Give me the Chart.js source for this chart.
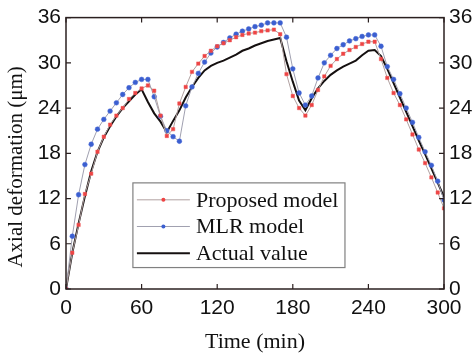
<!DOCTYPE html>
<html><head><meta charset="utf-8">
<script src="https://cdn.jsdelivr.net/npm/chart.js@4.4.1/dist/chart.umd.min.js"></script>
<style>html,body{margin:0;padding:0;background:#fff;}#wrap{width:474px;height:355px;}</style>
</head><body><div id="wrap"><canvas id="c" width="474" height="355"></canvas></div>
<script>
const times = [];
for (let t = 0; t <= 300; t += 5) times.push(t);
const proposed = [0,4.8,8.5,12.6,15.3,18.2,20.2,21.8,23.0,24.0,25.2,26.0,26.6,27.0,26.3,23.0,20.3,21.2,24.6,26.8,28.8,29.9,30.9,31.6,32.2,32.6,33.0,33.4,33.7,33.9,34.0,34.2,34.3,34.4,33.8,28.5,25.6,24.0,23.0,24.4,26.4,28.2,29.6,30.5,31.2,31.7,32.1,32.5,32.8,32.8,30.5,28.0,26.0,24.4,22.5,20.5,18.5,16.7,14.8,12.8,10.7];
const mlr = [0,7.0,12.5,16.5,19.2,21.2,22.5,23.6,24.7,25.8,26.7,27.4,27.8,27.8,25.5,22.9,21.0,20.2,19.6,24.3,26.8,28.6,30.1,31.3,32.1,32.7,33.3,33.8,34.2,34.5,34.8,35.0,35.3,35.3,35.3,33.4,29.2,26.0,24.4,25.6,28.0,30.0,31.0,31.9,32.4,32.9,33.2,33.5,33.7,33.7,32.2,29.5,27.8,25.9,24.0,22.1,20.1,18.2,16.4,14.3,11.8];
const actual = [0,4.8,8.7,12.3,15.6,18.2,20.1,21.6,22.9,24.0,24.9,25.8,26.5,24.8,23.3,22.2,20.8,22.3,23.7,25.4,26.8,28.0,29.0,29.6,30.0,30.3,30.7,31.1,31.6,31.9,32.3,32.6,32.9,33.1,33.3,30.2,27.5,25.0,23.7,25.3,26.6,27.6,28.4,29.0,29.5,29.9,30.3,31.0,31.6,31.7,30.9,29.2,27.3,25.4,23.5,21.6,19.7,17.9,16.0,14.1,12.2];
const seriesNames = ["Proposed model","MLR model","Actual value"];
const xTicks = [0,60,120,180,240,300];
const yTicks = [0,6,12,18,24,30,36];
const xTitle = "Time (min)";
const yTitle = "Axial deformation (μm)";

const pts = arr => arr.map((v,i)=>({x:times[i], y:v}));
const frameColor = '#2b2020';
const serif = '"Liberation Serif", "Times New Roman", serif';

const framePlugin = {
  id:'frame',
  afterDatasetsDraw(chart){
    const {ctx, chartArea:a, scales} = chart;
    ctx.save();
    ctx.strokeStyle = frameColor; ctx.lineWidth = 1.5;
    ctx.strokeRect(a.left, a.top, a.right-a.left, a.bottom-a.top);
    ctx.lineWidth = 1.2;
    const tl = 5;
    ctx.beginPath();
    xTicks.forEach(t=>{
      const x = scales.x.getPixelForValue(t);
      ctx.moveTo(x, a.bottom); ctx.lineTo(x, a.bottom-tl);
      ctx.moveTo(x, a.top); ctx.lineTo(x, a.top+tl);
    });
    yTicks.forEach(v=>{
      const y = scales.y.getPixelForValue(v);
      ctx.moveTo(a.left, y); ctx.lineTo(a.left+tl, y);
      ctx.moveTo(a.right, y); ctx.lineTo(a.right-tl, y);
    });
    ctx.stroke();
    // legend
    const w = a.right-a.left, h = a.bottom-a.top;
    const bx = a.left + 0.177*w, by = a.top + 0.609*h, bw = 0.561*w, bh = 0.312*h;
    ctx.fillStyle = '#fff';
    ctx.fillRect(bx,by,bw,bh);
    ctx.strokeStyle = '#808080'; ctx.lineWidth = 1.2;
    ctx.strokeRect(bx,by,bw,bh);
    ctx.font = '22px ' + serif;
    ctx.textBaseline = 'middle'; ctx.textAlign = 'left';
    chart.data.datasets.forEach((ds,i)=>{
      const yy = by + bh*(0.2 + 0.315*i);
      const x0 = bx+4, x1 = bx+57;
      ctx.beginPath();
      ctx.strokeStyle = ds.borderColor; ctx.lineWidth = ds.borderWidth;
      ctx.moveTo(x0,yy); ctx.lineTo(x1,yy); ctx.stroke();
      if (ds.pointRadius > 0) {
        ctx.fillStyle = ds.pointBackgroundColor;
        ctx.beginPath(); ctx.arc((x0+x1)/2, yy, 2, 0, Math.PI*2); ctx.fill();
      }
      ctx.fillStyle = '#111';
      ctx.fillText(ds.label, x1+6, yy+1);
    });
    // y-axis title
    ctx.save();
    ctx.translate(16, a.top + 0.55*h);
    ctx.rotate(-Math.PI/2);
    ctx.font = '21px ' + serif;
    ctx.textAlign = 'center'; ctx.textBaseline = 'middle';
    ctx.fillStyle = '#111';
    ctx.fillText(yTitle, 0, 0);
    ctx.restore();
    ctx.restore();
  }
};

const tickFont = {family:'"Liberation Sans", Arial, sans-serif', size:21};

new Chart(document.getElementById('c'), {
  type:'line',
  data:{datasets:[
    {label:seriesNames[0], data:pts(proposed), borderColor:'#b0a0a0', borderWidth:1, pointStyle:'rect', pointRadius:2.4, pointBackgroundColor:'#ee4444', pointBorderColor:'#ee5555', pointBorderWidth:0.5, tension:0},
    {label:seriesNames[1], data:pts(mlr), borderColor:'#a0a0b0', borderWidth:1, pointStyle:'circle', pointRadius:2.4, pointBackgroundColor:'#3b5fd0', pointBorderColor:'#4a6ad8', pointBorderWidth:0.5, tension:0},
    {label:seriesNames[2], data:pts(actual), borderColor:'#151010', borderWidth:2, pointRadius:0, tension:0}
  ]},
  options:{
    responsive:false, animation:false,
    layout:{padding:{top:13,left:0,right:0,bottom:0}},
    plugins:{legend:{display:false}, tooltip:{enabled:false}},
    scales:{
      x:{type:'linear', min:0, max:300, position:'bottom',
        afterBuildTicks:s=>{s.ticks = xTicks.map(v=>({value:v}));},
        afterFit:s=>{s.height = 66;},
        grid:{display:false, drawTicks:false}, border:{display:false},
        ticks:{font:tickFont, color:'#111', padding:7, maxRotation:0, autoSkip:false},
        title:{display:true, text:xTitle, font:{family:serif, size:22}, color:'#111', padding:{top:0,bottom:0}}
      },
      y:{type:'linear', min:0, max:36, position:'left',
        afterBuildTicks:s=>{s.ticks = yTicks.map(v=>({value:v}));},
        afterFit:s=>{s.width = 66;},
        grid:{display:false, drawTicks:false}, border:{display:false},
        ticks:{font:tickFont, color:'#111', padding:5}
      },
      y2:{type:'linear', min:0, max:36, position:'right',
        afterBuildTicks:s=>{s.ticks = yTicks.map(v=>({value:v}));},
        afterFit:s=>{s.width = 30;},
        grid:{display:false, drawTicks:false}, border:{display:false},
        ticks:{font:tickFont, color:'#111', padding:5}
      }
    }
  },
  plugins:[framePlugin]
});
</script></body></html>
